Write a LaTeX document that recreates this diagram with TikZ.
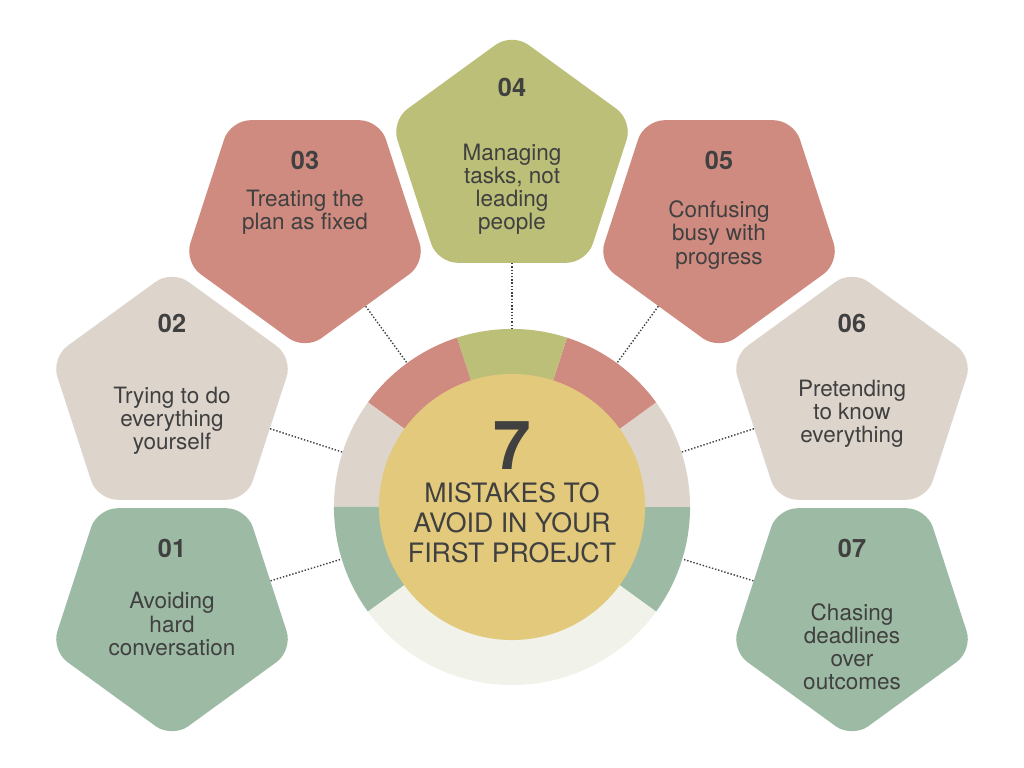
\documentclass[tikz,border=0pt]{standalone}
\usepackage{fontspec}
\setmainfont{TeX Gyre Heros}
\usetikzlibrary{shapes.geometric}

\definecolor{sage}{RGB}{157,187,164}
\definecolor{sand}{RGB}{221,213,204}
\definecolor{rose}{RGB}{208,139,128}
\definecolor{moss}{RGB}{187,191,119}
\definecolor{honey}{RGB}{227,201,123}
\definecolor{pale}{RGB}{241,242,234}
\definecolor{ink}{RGB}{64,64,64}

\begin{document}
\begin{tikzpicture}[
    , x = 0.025cm
    , y = 0.025cm
    , font = \fontsize{16}{16.4}\selectfont
    , penta/.style = {
      , regular polygon
      , regular polygon sides = 5
      , minimum size = 6.35cm
      , inner sep = 0pt
      , rounded corners = 0.5cm
    }
    , flip/.style = {shape border rotate = 180}
    , num/.style = {text = ink, font = \fontsize{18}{20}\selectfont\bfseries}
    , txt/.style = {text = ink, align = center}
    , link/.style = {draw = ink, line width = 1pt, dash pattern = on 1pt off 1.3pt}
  ]
    \useasboundingbox [fill = white] (0,0) rectangle (1024,768);

    % ring of coloured wedges
    \node (ring) [circle, minimum size = 8.9cm, inner sep = 0pt] at (512,261) {};
    \foreach \a/\b/\c in {-36/0/sage, 0/36/sand, 36/72/rose, 72/108/moss,
                          108/144/rose, 144/180/sand, 180/216/sage, 216/324/pale}
      \fill [\c] (ring.center) -- ++(\a:4.45cm)
        arc [start angle = \a, end angle = \b, radius = 4.45cm] -- cycle;
    \node (hub) [circle, fill = honey, minimum size = 6.65cm, inner sep = 0pt] at (512,261) {};
    \node (seven) [text = ink, font = \fontsize{48}{48}\selectfont\bfseries] at (512,322) {7};
    \node (title) [txt, font = \fontsize{19}{21.3}\selectfont] at (512,245)
      {MISTAKES TO\\AVOID IN YOUR\\FIRST PROEJCT};

    % pentagons
    \node (p01) [penta, flip, fill = sage] at (172,157) {};
    \node (p02) [penta, fill = sand] at (172,371) {};
    \node (p03) [penta, flip, fill = rose] at (305,545) {};
    \node (p04) [penta, fill = moss] at (512,608) {};
    \node (p05) [penta, flip, fill = rose] at (719,545) {};
    \node (p06) [penta, fill = sand] at (852,371) {};
    \node (p07) [penta, flip, fill = sage] at (852,157) {};

    \node (n01) [num] at (172,220) {01};
    \node (n02) [num] at (172,445) {02};
    \node (n03) [num] at (305,608) {03};
    \node (n04) [num] at (512,681) {04};
    \node (n05) [num] at (719,608) {05};
    \node (n06) [num] at (852,445) {06};
    \node (n07) [num] at (852,220) {07};

    \node (t01) [txt] at (172,144) {Avoiding\\hard\\conversation};
    \node (t02) [txt] at (172,347) {Trying to do\\everything\\yourself};
    \node (t03) [txt] at (305,556) {Treating the\\plan as fixed};
    \node (t04) [txt] at (512,579) {Managing\\tasks, not\\leading\\people};
    \node (t05) [txt] at (719,533) {Confusing\\busy with\\progress};
    \node (t06) [txt] at (852,354) {Pretending\\to know\\everything};
    \node (t07) [txt] at (852,121) {Chasing\\deadlines\\over\\outcomes};

    % dotted links
    \foreach \i in {01,02,03,04,05,06,07}
      \draw [link] (p\i) -- (ring);
  \end{tikzpicture}
\end{document}
